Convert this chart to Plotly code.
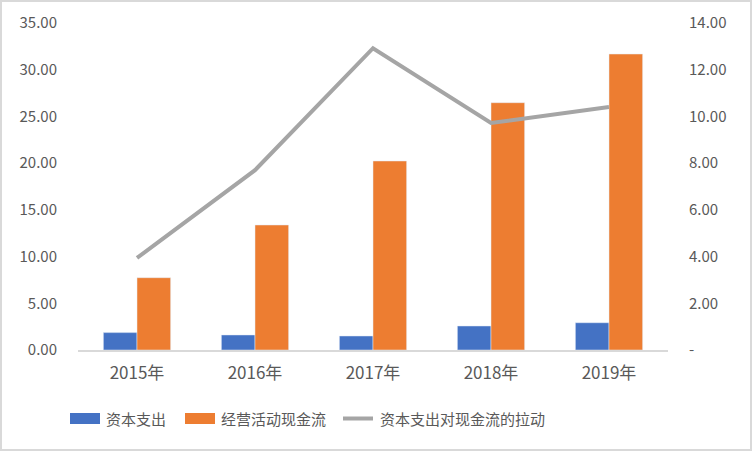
import plotly.graph_objects as go

categories = ["2015年", "2016年", "2017年", "2018年", "2019年"]
capex = [1.86, 1.61, 1.50, 2.57, 2.92]
op_cash = [7.74, 13.38, 20.23, 26.47, 31.68]
pull = [3.94, 7.70, 12.92, 9.72, 10.40]
left_ticks = [0, 5, 10, 15, 20, 25, 30, 35]
right_ticks = [0, 2, 4, 6, 8, 10, 12, 14]
right_ticktext = ["-", "2.00", "4.00", "6.00", "8.00", "10.00", "12.00", "14.00"]
series_names = ["资本支出", "经营活动现金流", "资本支出对现金流的拉动"]

BLUE = "#4472C4"
ORANGE = "#ED7D31"
GREY = "#A5A5A5"
TXT = "#595959"
FONT = "Noto Sans CJK SC"

W, H = 752, 451
L, R, T, B = 78, 84, 23, 101
pw, ph = W - L - R, H - T - B

fig = go.Figure()
fig.add_trace(go.Bar(x=categories, y=capex, name=series_names[0], marker_color=BLUE, yaxis="y"))
fig.add_trace(go.Bar(x=categories, y=op_cash, name=series_names[1], marker_color=ORANGE, yaxis="y"))
fig.add_trace(go.Scatter(x=categories, y=pull, name=series_names[2], mode="lines",
                         line=dict(color=GREY, width=4), yaxis="y2"))

def px_x(p):
    return (p - L) / pw

def px_y(p):
    return (H - B - p) / ph

shapes = []
annotations = []
# legend
leg_y0, leg_y1 = px_y(424), px_y(413)
for x0, x1, tx, color, name in [(70, 100, 104, BLUE, series_names[0]),
                                (185, 215, 219, ORANGE, series_names[1])]:
    shapes.append(dict(type="rect", xref="paper", yref="paper", x0=px_x(x0), x1=px_x(x1),
                       y0=leg_y0, y1=leg_y1, fillcolor=color, line=dict(width=0)))
    annotations.append(dict(xref="paper", yref="paper", x=px_x(tx), y=px_y(418.5), text=name,
                            showarrow=False, xanchor="left", yanchor="middle",
                            font=dict(family=FONT, size=15, color=TXT)))
shapes.append(dict(type="line", xref="paper", yref="paper", x0=px_x(343), x1=px_x(373),
                   y0=px_y(418.5), y1=px_y(418.5), line=dict(color=GREY, width=4)))
annotations.append(dict(xref="paper", yref="paper", x=px_x(378), y=px_y(418.5), text=series_names[2],
                        showarrow=False, xanchor="left", yanchor="middle",
                        font=dict(family=FONT, size=15, color=TXT)))
# outer frame
shapes.append(dict(type="rect", xref="paper", yref="paper", x0=px_x(1), x1=px_x(W - 1),
                   y0=px_y(H - 1), y1=px_y(1), line=dict(color="#D9D9D9", width=2),
                   fillcolor="rgba(0,0,0,0)", layer="below"))

fig.update_layout(
    width=W, height=H,
    margin=dict(l=L, r=R, t=T, b=B),
    paper_bgcolor="white", plot_bgcolor="white",
    barmode="group", bargap=0.43, bargroupgap=0,
    showlegend=False,
    font=dict(family=FONT, size=15, color=TXT),
    xaxis=dict(showgrid=False, showline=True, linecolor="#D9D9D9", linewidth=1.5,
               ticks="", tickfont=dict(size=17, color=TXT), ticklabelstandoff=7),
    yaxis=dict(range=[0, 35], tickvals=left_ticks, tickformat=".2f", showgrid=False,
               zeroline=False, showline=False, ticks="", tickfont=dict(size=15, color=TXT),
               ticklabelstandoff=20),
    yaxis2=dict(range=[0, 14], tickvals=right_ticks, ticktext=right_ticktext, overlaying="y",
                side="right", showgrid=False, zeroline=False, showline=False, ticks="",
                tickfont=dict(size=15, color=TXT), ticklabelstandoff=20),
    shapes=shapes, annotations=annotations,
)

fig.write_html("out.html")
